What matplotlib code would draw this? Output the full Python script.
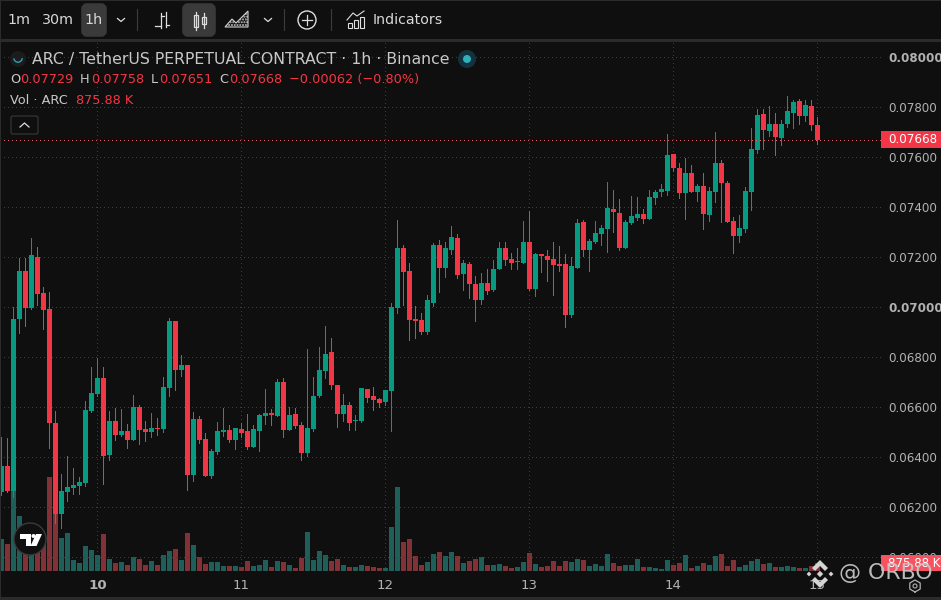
import matplotlib
matplotlib.use('Agg')
import matplotlib.pyplot as plt
from matplotlib.patches import Rectangle, Circle, FancyBboxPatch, Polygon
import numpy as np

# hourly candles, index 16 = day 10 00:00
opens = [0.06261,0.06365,0.06265,0.06953,0.07145,0.06997,0.07201,0.07057,0.06993,0.06537,
0.06173,0.06261,0.06277,0.06285,0.06297,0.06585,0.06653,0.06717,0.06409,0.06545,
0.06489,0.06505,0.06469,0.06601,0.06513,0.06501,0.06517,0.06513,0.06677,0.06945,
0.06749,0.06769,0.06329,0.06553,0.06473,0.06325,0.06421,0.06501,0.06509,0.06469,
0.06513,0.06505,0.06441,0.06505,0.06565,0.06577,0.06565,0.06701,0.06509,0.06573,
0.06529,0.06417,0.06513,0.06645,0.06745,0.06821,0.06689,0.06573,0.06609,0.06545,
0.06545,0.06673,0.06645,0.06633,0.06621,0.06665,0.06997,0.07237,0.07145,0.06953,
0.06949,0.06901,0.07017,0.07249,0.07157,0.07229,0.07277,0.07133,0.07173,0.07093,
0.07029,0.07097,0.07069,0.07153,0.07237,0.07193,0.07181,0.07177,0.07261,0.07073,
0.07213,0.07205,0.07193,0.07173,0.07173,0.06969,0.07157,0.07341,0.07229,0.07261,
0.07293,0.07313,0.07393,0.07377,0.07237,0.07337,0.07357,0.07373,0.07353,0.07437,
0.07461,0.07465,0.07613,0.07557,0.07457,0.07537,0.07461,0.07485,0.07369,0.07461,
0.07577,0.07497,0.07345,0.07285,0.07313,0.07461,0.07629,0.07773,0.07705,0.07733,
0.07677,0.07733,0.07777,0.07825,0.07765,0.07805,0.07729]
highs = [0.06481,0.06477,0.07001,0.07197,0.07197,0.07277,0.07241,0.07081,0.07061,0.06585,
0.06333,0.06405,0.06357,0.06321,0.06625,0.06761,0.06797,0.06761,0.06585,0.06597,
0.06593,0.06533,0.06649,0.06609,0.06545,0.06577,0.06557,0.06721,0.06957,0.06945,
0.06809,0.06769,0.06581,0.06565,0.06497,0.06433,0.06541,0.06597,0.06529,0.06517,
0.06537,0.06573,0.06529,0.06573,0.06673,0.06593,0.06713,0.06717,0.06601,0.06597,
0.06541,0.06833,0.06721,0.06841,0.06925,0.06877,0.06689,0.06653,0.06621,0.06569,
0.06677,0.06673,0.06681,0.06637,0.06669,0.07017,0.07349,0.07249,0.07177,0.07005,
0.06977,0.07049,0.07257,0.07269,0.07261,0.07325,0.07293,0.07189,0.07181,0.07125,
0.07137,0.07153,0.07189,0.07261,0.07261,0.07217,0.07237,0.07345,0.07385,0.07217,
0.07213,0.07229,0.07261,0.07245,0.07213,0.07201,0.07353,0.07349,0.07273,0.07345,
0.07329,0.07501,0.07469,0.07433,0.07349,0.07445,0.07441,0.07393,0.07469,0.07469,
0.07493,0.07693,0.07613,0.07577,0.07597,0.07569,0.07493,0.07537,0.07481,0.07701,
0.07589,0.07505,0.07361,0.07369,0.07481,0.07717,0.07793,0.07793,0.07805,0.07777,
0.07749,0.07845,0.07829,0.07833,0.07829,0.07829,0.07758]
lows = [0.06249,0.06261,0.06241,0.06897,0.06925,0.06993,0.07009,0.06913,0.06437,0.06137,
0.06118,0.06225,0.06253,0.06253,0.06285,0.06581,0.06645,0.06293,0.06389,0.06469,
0.06485,0.06437,0.06469,0.06453,0.06465,0.06481,0.06489,0.06501,0.06645,0.06669,
0.06725,0.06269,0.06305,0.06457,0.06325,0.06317,0.06413,0.06485,0.06461,0.06433,
0.06481,0.06433,0.06441,0.06425,0.06533,0.06529,0.06565,0.06481,0.06509,0.06517,
0.06389,0.06405,0.06505,0.06641,0.06717,0.06673,0.06521,0.06545,0.06509,0.06509,
0.06541,0.06621,0.06589,0.06601,0.06609,0.06505,0.06977,0.07009,0.06869,0.06877,
0.06893,0.06893,0.07005,0.07061,0.07121,0.07213,0.07117,0.07069,0.07037,0.06945,
0.07013,0.07053,0.07065,0.07153,0.07169,0.07153,0.07153,0.07177,0.07069,0.07045,
0.07141,0.07105,0.07049,0.07145,0.06921,0.06961,0.07157,0.07205,0.07145,0.07257,
0.07249,0.07221,0.07301,0.07229,0.07237,0.07333,0.07349,0.07337,0.07353,0.07413,
0.07445,0.07449,0.07545,0.07437,0.07353,0.07461,0.07425,0.07313,0.07345,0.07421,
0.07341,0.07341,0.07217,0.07261,0.07301,0.07389,0.07617,0.07633,0.07685,0.07609,
0.07649,0.07721,0.07717,0.07733,0.07745,0.07709,0.07651]
closes = [0.06365,0.06265,0.06953,0.07145,0.06997,0.07209,0.07053,0.06989,0.06537,0.06173,
0.06265,0.06281,0.06289,0.06301,0.06589,0.06657,0.06717,0.06405,0.06545,0.06489,
0.06505,0.06469,0.06601,0.06509,0.06501,0.06517,0.06513,0.06681,0.06945,0.06749,
0.06769,0.06329,0.06553,0.06469,0.06325,0.06425,0.06505,0.06509,0.06469,0.06517,
0.06497,0.06441,0.06513,0.06569,0.06577,0.06569,0.06701,0.06509,0.06569,0.06525,
0.06417,0.06517,0.06645,0.06749,0.06813,0.06689,0.06573,0.06609,0.06537,0.06549,
0.06677,0.06637,0.06629,0.06617,0.06669,0.07001,0.07237,0.07141,0.06949,0.06945,
0.06901,0.07029,0.07249,0.07157,0.07237,0.07281,0.07129,0.07177,0.07093,0.07029,
0.07097,0.07065,0.07153,0.07237,0.07189,0.07177,0.07185,0.07261,0.07073,0.07213,
0.07205,0.07189,0.07169,0.07165,0.06969,0.07165,0.07337,0.07229,0.07265,0.07297,
0.07317,0.07397,0.07381,0.07237,0.07341,0.07365,0.07373,0.07353,0.07441,0.07461,
0.07473,0.07609,0.07557,0.07457,0.07537,0.07461,0.07485,0.07373,0.07465,0.07577,
0.07497,0.07341,0.07285,0.07317,0.07465,0.07633,0.07769,0.07709,0.07733,0.07681,
0.07733,0.07785,0.07821,0.07765,0.07809,0.07729,0.07668]
# volume in thousands
volumes = [3504,2957,8760,6023,4015,2555,3103,4015,10293,6242,
3614,4161,1205,876,2738,2300,1752,4052,1314,876,
986,657,1533,1314,657,1095,657,1752,2190,2409,
1205,4161,2847,1533,767,986,986,548,548,548,
438,1095,548,657,1205,438,1095,986,657,329,
1424,4271,1205,2190,1752,1095,1314,657,438,438,
657,548,438,329,329,4818,9198,3176,3504,1643,
657,986,1862,2081,1643,2081,1643,876,1095,1314,
1533,657,657,767,548,329,438,986,1971,767,
438,548,1095,548,1095,986,1314,1205,548,767,
548,1862,876,548,657,657,1314,438,438,329,
219,1205,657,876,1752,329,548,876,657,1643,
1862,548,1205,438,657,1095,1314,767,876,438,
438,548,438,329,329,548,876]

price_ticks = [0.060,0.062,0.064,0.066,0.068,0.070,0.072,0.074,0.076,0.078,0.080]
day_pos = [16,40,64,88,112,136]
day_labels = ['10','11','12','13','14','15']
last_price = 0.07668

BG = '#0f0f0f'
GREEN = '#089981'
RED = '#f23645'
VOL_GREEN = '#1e5f5a'
VOL_RED = '#823136'
GRID = '#3e3e3e'
TXT = '#b2b2b2'

plt.rcParams['font.family'] = 'DejaVu Sans'
fig = plt.figure(figsize=(9.41, 6), dpi=100, facecolor=BG)

W, H = 941, 600
rect = [0, (H-571)/H, 881/W, 529/H]
ax_vol = fig.add_axes(rect, facecolor=BG, zorder=1)
ax = fig.add_axes(rect, facecolor='none', zorder=2)

x = np.arange(len(opens))
o, h, l, c = map(np.array, (opens, highs, lows, closes))
up = c >= o
xlim = (-1.33/6, (881-1.33)/6)

ax_vol.bar(x, volumes, width=5/6, color=[VOL_GREEN if u else VOL_RED for u in up], antialiased=False)
ax_vol.set_xlim(xlim)
ax_vol.set_ylim(0, 57925)
ax_vol.axis('off')

ax.vlines(x[up], l[up], h[up], color=GREEN, lw=0.72, antialiased=False, zorder=3)
ax.vlines(x[~up], l[~up], h[~up], color=RED, lw=0.72, antialiased=False, zorder=3)
ax.bar(x[up], (c-o)[up], bottom=o[up], width=5/6, color=GREEN, antialiased=False, zorder=4)
ax.bar(x[~up], (o-c)[~up], bottom=c[~up], width=5/6, color=RED, antialiased=False, zorder=4)
ax.axhline(last_price, color='#e8606a', lw=0.72, ls=(0, (1, 3)), antialiased=False, zorder=5)

ax.set_xlim(xlim)
ax.set_ylim(0.059458, 0.080593)
ax.set_xticks(day_pos)
ax.set_xticklabels(day_labels)
ax.yaxis.tick_right()
ax.set_yticks(price_ticks)
ax.set_yticklabels([f'{p:.5f}' for p in price_ticks])
ax.tick_params(axis='y', length=0, pad=5.2, labelsize=8.55, labelcolor=TXT)
ax.tick_params(axis='x', length=0, pad=6, labelsize=9.6, labelcolor=TXT)
ax.grid(True, color=GRID, lw=0.72, ls=(0, (1, 3)), antialiased=False, zorder=0)
ax.set_axisbelow(True)
for s in ax.spines.values():
    s.set_visible(False)
for lab in ax.get_yticklabels():
    if lab.get_text() in ('0.07000', '0.08000'):
        lab.set_fontweight('bold')
ax.get_xticklabels()[0].set_fontweight('bold')

# overlay in pixels for the toolbar and labels
ui = fig.add_axes([0, 0, 1, 1], facecolor='none', zorder=5)
ui.set_xlim(0, W)
ui.set_ylim(H, 0)
ui.axis('off')

ui.add_patch(Rectangle((0, 0), W, 39, color=BG, lw=0))
ui.add_patch(Rectangle((0, 39), W, 3, color='#2b2b2b', lw=0))
ui.add_patch(Rectangle((0, 0), W, 1, color='#2b2b2b', lw=0))
ui.add_patch(Rectangle((0, 0), 1, H, color='#2b2b2b', lw=0))
ui.add_patch(Rectangle((0, 597), W, 3, color='#2b2b2b', lw=0))

for bx, bw in ((81, 26), (182, 34)):
    ui.add_patch(FancyBboxPatch((bx+3, 6), bw-6, 28, boxstyle='round,pad=0,rounding_size=3',
                                mutation_aspect=1, fc='#3a3a3a', ec='#3a3a3a', lw=4))
for sx in (137, 284, 331):
    ui.plot([sx, sx], [9, 30], color='#3c3c3c', lw=0.8)

for label, tx in (('1m', 18.5), ('30m', 57.5), ('1h', 94)):
    ui.text(tx, 20.5, label, color='#d8d8d8', fontsize=10.3, ha='center', va='center')
ui.text(373, 20.5, 'Indicators', color='#d8d8d8', fontsize=10.2, ha='left', va='center')

WHITE = '#dedede'
for cx in (121, 268):
    ui.plot([cx-3.5, cx, cx+3.5], [18.5, 21.5, 18.5], color=WHITE, lw=0.9)
# bars icon
ui.plot([161, 161], [13, 28], color=WHITE, lw=0.9)
ui.plot([155, 161], [26, 26], color=WHITE, lw=0.9)
ui.plot([166, 166], [12, 27], color=WHITE, lw=0.9)
ui.plot([166, 169], [25, 25], color=WHITE, lw=0.9)
ui.plot([161, 164], [16, 16], color=WHITE, lw=0.9)
# candle icon
ui.plot([196, 196], [12, 30], color=WHITE, lw=0.9)
ui.add_patch(Rectangle((194, 15), 4, 12, fc='#3a3a3a', ec=WHITE, lw=0.9))
ui.plot([204, 204], [13, 28], color=WHITE, lw=0.9)
ui.add_patch(Rectangle((202, 17), 4, 7, fc='#3a3a3a', ec=WHITE, lw=0.9))
# area icon
ui.add_patch(Polygon([(225, 27), (232, 19), (236, 23), (248, 11), (248, 27)],
                     fc='none', ec='#cfcfcf', lw=0.8, hatch='......'))
# plus icon
ui.add_patch(Circle((307, 20), 9, fc='none', ec=WHITE, lw=1))
ui.plot([307, 307], [15, 25], color=WHITE, lw=0.9)
ui.plot([302, 312], [20, 20], color=WHITE, lw=0.9)
# indicators icon
for ix, iy in ((348, 23), (354, 20), (360, 17)):
    ui.add_patch(Rectangle((ix, iy), 4, 28-iy, fc='none', ec=WHITE, lw=0.8))
ui.plot([347, 353, 357, 364], [20, 13, 16, 11], color=WHITE, lw=0.8)

# legend block
ui.add_patch(Circle((18, 59), 8, fc='#1c1c1c', lw=0))
ui.plot(18+4.2*np.cos(np.linspace(0.2, 2.9, 12)), 58+4.2*np.sin(np.linspace(0.2, 2.9, 12)),
        color='#2f9fc0', lw=1)
ui.text(32, 59.5, 'ARC / TetherUS PERPETUAL CONTRACT · 1h · Binance', color='#c8c8c8',
        fontsize=11.3, ha='left', va='center')
ui.add_patch(Circle((467, 59), 9, fc='#12333d', lw=0))
ui.add_patch(Circle((467, 59), 4, fc='#2fb0ba', lw=0))

LRED = '#f23645'
GREY = '#c8c8c8'
row = [(10, 'O', GREY), (20.5, '0.07729', LRED), (80, 'H', GREY), (91, '0.07758', LRED),
       (151, 'L', GREY), (159, '0.07651', LRED), (219, 'C', GREY), (229, '0.07668', LRED),
       (289, '−0.00062 (−0.80%)', LRED)]
for tx, s, col in row:
    ui.text(tx, 79.5, s, color=col, fontsize=9.25, ha='left', va='center')
ui.text(10, 100.5, 'Vol · ARC', color=GREY, fontsize=9.25, ha='left', va='center')
ui.text(76.5, 100.5, '875.88 K', color=LRED, fontsize=9.25, ha='left', va='center')
ui.add_patch(FancyBboxPatch((11, 116), 27, 18, boxstyle='round,pad=0,rounding_size=2',
                            fc=BG, ec='#3a3a3a', lw=0.8))
ui.plot([20, 24.5, 29], [127, 123, 127], color=WHITE, lw=0.9)

# price labels on the right
LABEL_RED = '#f23645'
ui.add_patch(Rectangle((881, 131), 60, 17, color=LABEL_RED, lw=0))
ui.text(888, 139.5, '0.07668', color='white', fontsize=8.55, ha='left', va='center')
ui.add_patch(Rectangle((881, 555), 60, 16, color='#f7525f', lw=0))
ui.text(888, 563.5, '875.88 K', color='white', fontsize=8.55, ha='left', va='center')

# tradingview badge
ui.add_patch(Circle((30, 539), 16, fc='#101010', ec='#3a3a3a', lw=1))
ui.add_patch(Polygon([(20, 534), (31, 534), (31, 546), (26, 546), (26, 539), (20, 539)], fc='white', lw=0))
ui.add_patch(Circle((33.5, 536), 2, fc='white', lw=0))
ui.add_patch(Polygon([(36, 534), (42, 534), (36.5, 546), (30.5, 546)], fc='white', lw=0))

# watermark
LOGO = '#d4d4d4'
def diamond(cx, cy, r):
    ui.add_patch(Polygon([(cx-r, cy), (cx, cy-r), (cx+r, cy), (cx, cy+r)], fc=LOGO, lw=0))
diamond(820, 574, 3.2)
diamond(809, 574, 2.4)
diamond(831, 574, 2.4)
ui.add_patch(Polygon([(820, 560), (828, 568), (825, 571), (820, 566), (815, 571), (812, 568)], fc=LOGO, lw=0))
ui.add_patch(Polygon([(820, 588), (828, 580), (825, 577), (820, 582), (815, 577), (812, 580)], fc=LOGO, lw=0))
ui.text(839, 573, '@ ORBO', color='#c4c4c4', fontsize=15.8, ha='left', va='center', alpha=0.95)

# settings icon
t = np.linspace(0, 2*np.pi, 7) + np.pi/2
ui.plot(915+6*np.cos(t), 586+6*np.sin(t), color='#b0b0b0', lw=0.9)
ui.add_patch(Circle((915, 586), 2, fc='none', ec='#b0b0b0', lw=0.8))

fig.savefig('out.png', dpi=100, facecolor=BG)
